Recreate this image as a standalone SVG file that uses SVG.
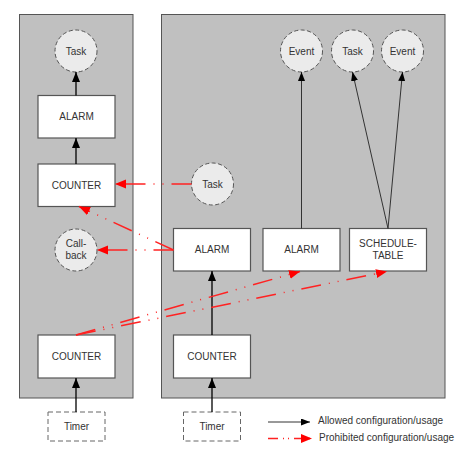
<svg xmlns="http://www.w3.org/2000/svg" width="466" height="457" viewBox="0 0 466 457">
<style>
.panel{fill:#c0c0c0;stroke:#555;stroke-width:1}
.box{fill:#fff;stroke:#555;stroke-width:1.2}
.circ{fill:#ebebeb;stroke:#555;stroke-width:1;stroke-dasharray:4 2.5}
.timer{fill:#fff;stroke:#666;stroke-width:1;stroke-dasharray:5 3}
text{font-family:"Liberation Sans",Arial,sans-serif;font-size:10px;fill:#333;text-anchor:middle}
.leg{text-anchor:start}
.ok{stroke:#000;stroke-width:1.3;fill:none;marker-end:url(#ab)}
.ok2{stroke:#333;stroke-width:1;fill:none;marker-end:url(#ab2)}
.bad{stroke:#f22;stroke-width:1.5;fill:none;stroke-dasharray:20 8 1 8 1 8;marker-end:url(#ar)}
</style>
<defs>
<marker id="ab" markerUnits="userSpaceOnUse" markerWidth="10" markerHeight="8" refX="10" refY="4" orient="auto"><path d="M0,0 L10,4 L0,8 z" fill="#000"/></marker>
<marker id="ab2" markerUnits="userSpaceOnUse" markerWidth="9" markerHeight="7" refX="9" refY="3.5" orient="auto"><path d="M0,0 L9,3.5 L0,7 z" fill="#000"/></marker>
<marker id="ar" markerUnits="userSpaceOnUse" markerWidth="12" markerHeight="10" refX="11" refY="4.5" orient="auto"><path d="M0,0 L11,4.5 L0,9 z" fill="#f00"/></marker>
</defs>
<g id="panel-left"><rect class="panel" x="19.5" y="14.5" width="113.5" height="383.5"/></g>
<g id="panel-right"><rect class="panel" x="161.5" y="14.5" width="283.5" height="383.5"/></g>

<g id="task-left"><circle class="circ" cx="76" cy="51" r="21"/><text x="76" y="54.5">Task</text></g>
<g id="alarm-left"><rect class="box" x="38" y="95.5" width="77" height="42.5"/><text x="76.5" y="120">ALARM</text></g>
<g id="counter-left-top"><rect class="box" x="38" y="164" width="77" height="42.5"/><text x="76.5" y="188.5">COUNTER</text></g>
<g id="callback"><circle class="circ" cx="76" cy="250" r="21"/><text x="76" y="247">Call-</text><text x="76" y="259">back</text></g>
<g id="counter-left-bottom"><rect class="box" x="38" y="335" width="77" height="43"/><text x="76.5" y="359.5">COUNTER</text></g>
<g id="timer-left"><rect class="timer" x="48" y="412" width="57" height="29"/><text x="76.5" y="429.5">Timer</text></g>

<g id="task-mid"><circle class="circ" cx="212.5" cy="184" r="21"/><text x="212.5" y="187.5">Task</text></g>
<g id="event-1"><circle class="circ" cx="301.5" cy="51" r="21"/><text x="301.5" y="54.5">Event</text></g>
<g id="task-right"><circle class="circ" cx="352.5" cy="51" r="21"/><text x="352.5" y="54.5">Task</text></g>
<g id="event-2"><circle class="circ" cx="402.5" cy="51" r="21"/><text x="402.5" y="54.5">Event</text></g>
<g id="alarm-1"><rect class="box" x="173.5" y="228.5" width="77" height="42.5"/><text x="212" y="253">ALARM</text></g>
<g id="alarm-2"><rect class="box" x="263" y="228.5" width="77" height="42.5"/><text x="301.5" y="253">ALARM</text></g>
<g id="schedule-table"><rect class="box" x="349.5" y="228.5" width="77" height="42.5"/><text x="388" y="247">SCHEDULE-</text><text x="388" y="259">TABLE</text></g>
<g id="counter-right"><rect class="box" x="173.5" y="335" width="77" height="43"/><text x="212" y="359.5">COUNTER</text></g>
<g id="timer-right"><rect class="timer" x="183.5" y="412" width="57" height="29"/><text x="212" y="429.5">Timer</text></g>

<g id="connectors">
<path class="ok" d="M76,95.5 L76,72"/>
<path class="ok" d="M76,164 L76,138"/>
<path class="ok" d="M76,412 L76,378"/>
<path class="ok" d="M212,335 L212,271"/>
<path class="ok" d="M212,412 L212,378"/>
<path class="ok2" d="M301.5,228.5 L301.5,72"/>
<path class="ok2" d="M388,228.5 L352.5,72"/>
<path class="ok2" d="M388,228.5 L402.5,72"/>
<path class="bad" d="M191.5,184 L115,184"/>
<path class="bad" d="M173.5,250 L79,206.5"/>
<path class="bad" d="M173.5,250 L97,250"/>
<path class="bad" d="M76,335 L300,271.5"/>
<path class="bad" d="M76,335 L387,271.5"/>
</g>

<g id="legend">
<path class="ok2" d="M268,422 L310,422"/>
<text class="leg" x="318" y="423.5">Allowed configuration/usage</text>
<path class="bad" style="stroke-dasharray:10 5 1 4 1 5" d="M268,438.5 L312,438.5"/>
<text class="leg" x="319" y="441">Prohibited configuration/usage</text>
</g>
</svg>
